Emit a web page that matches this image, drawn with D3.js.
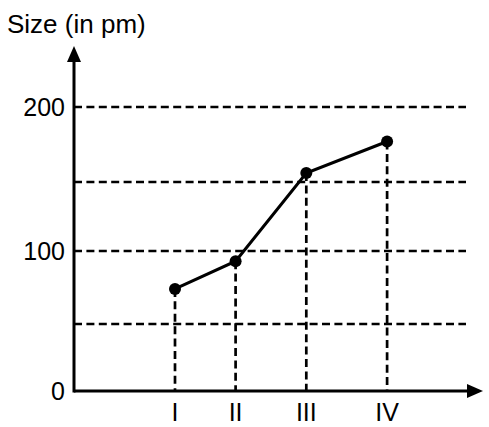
<!DOCTYPE html>
<html>
<head>
<meta charset="utf-8">
<script src="https://cdn.jsdelivr.net/npm/d3@7"></script>
<style>
  body { margin: 0; background: #fff; }
  svg { display: block; }
</style>
</head>
<body>
<svg id="chart" width="489" height="427"></svg>
<script>
// data
let categories = ["I", "II", "III", "IV"];
let catPos = [1, 1.6, 2.3, 3.1];        // horizontal position of each group, axis units
let sizes = [74, 93, 156, 177];         // size in pm
let yTicks = [0, 100, 200];
let gridValues = [50, 100, 150, 200];

function drawChart(svgId) {
  let svg = d3.select(svgId);
  let font = "Liberation Sans, Arial, sans-serif";

  let x0 = 74, x1 = 478;
  let x = d3.scaleLinear()
    .domain([0, 4])
    .range([x0, x1]);

  // grid in the picture is not quite even, so piecewise
  let y = d3.scaleLinear()
    .domain([0, 50, 100, 150, 200])
    .range([391, 324, 251, 182, 107]);

  // horizontal dashed lines
  svg.selectAll(".hgrid")
    .data(gridValues)
    .enter()
    .append("line")
    .attr("x1", x(0))
    .attr("x2", 466)
    .attr("y1", d => y(d))
    .attr("y2", d => y(d))
    .style("stroke", "#000")
    .style("stroke-width", 2.7)
    .style("stroke-dasharray", "8,4.4");

  // vertical drop lines
  svg.selectAll(".vgrid")
    .data(sizes)
    .enter()
    .append("line")
    .attr("x1", (d, i) => x(catPos[i]))
    .attr("x2", (d, i) => x(catPos[i]))
    .attr("y1", d => y(d))
    .attr("y2", y(0))
    .style("stroke", "#000")
    .style("stroke-width", 2.7)
    .style("stroke-dasharray", "8,4.4");

  // axes
  svg.append("line")
    .attr("x1", x(0)).attr("x2", 470)
    .attr("y1", y(0)).attr("y2", y(0))
    .style("stroke", "#000")
    .style("stroke-width", 3);
  svg.append("line")
    .attr("x1", x(0)).attr("x2", x(0))
    .attr("y1", y(0) + 1.5).attr("y2", 60)
    .style("stroke", "#000")
    .style("stroke-width", 3);

  // arrow heads
  svg.append("path")
    .attr("d", "M" + 483 + "," + y(0) + " L" + 467 + "," + (y(0) - 7) + " L" + 467 + "," + (y(0) + 7) + " Z")
    .style("fill", "#000");
  svg.append("path")
    .attr("d", "M" + x(0) + "," + 46 + " L" + (x(0) - 7) + "," + 62 + " L" + (x(0) + 7) + "," + 62 + " Z")
    .style("fill", "#000");

  // data line
  let line = d3.line()
    .x((d, i) => x(catPos[i]))
    .y(d => y(d));
  svg.append("path")
    .datum(sizes)
    .attr("d", line)
    .style("fill", "none")
    .style("stroke", "#000")
    .style("stroke-width", 3);

  svg.selectAll(".dot")
    .data(sizes)
    .enter()
    .append("circle")
    .attr("cx", (d, i) => x(catPos[i]))
    .attr("cy", d => y(d))
    .attr("r", 6)
    .style("fill", "#000");

  // y tick labels
  svg.selectAll(".ylab")
    .data(yTicks)
    .enter()
    .append("text")
    .attr("x", 65)
    .attr("y", d => y(d))
    .attr("dy", "0.35em")
    .text(d => d)
    .style("font-family", font)
    .style("font-size", "25px")
    .style("text-anchor", "end");

  // x category labels
  svg.selectAll(".xlab")
    .data(categories)
    .enter()
    .append("text")
    .attr("x", (d, i) => x(catPos[i]))
    .attr("y", 421)
    .text(d => d)
    .style("font-family", font)
    .style("font-size", "25px")
    .style("text-anchor", "middle");

  // axis title
  svg.append("text")
    .attr("x", 7)
    .attr("y", 33)
    .text("Size (in pm)")
    .style("font-family", font)
    .style("font-size", "26px");
}

drawChart("#chart");
</script>
</body>
</html>
